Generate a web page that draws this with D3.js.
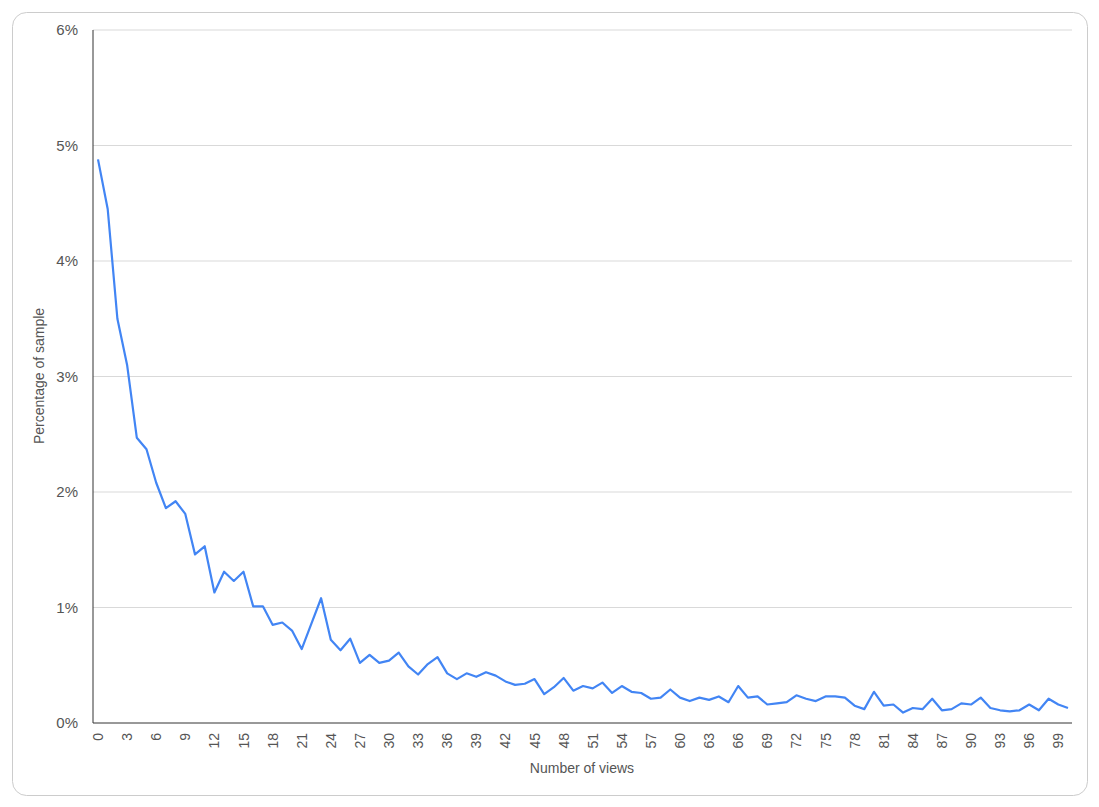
<!DOCTYPE html>
<html><head><meta charset="utf-8">
<script src="https://cdn.jsdelivr.net/npm/d3@7"></script>
<style>body{margin:0;background:#fff;font-family:"Liberation Sans",Arial,sans-serif}</style>
</head><body>
<svg id="c" width="1099" height="807" font-family="Liberation Sans, Arial, sans-serif"></svg>
<script>
const views = d3.range(0, 101);
const percent = [4.88,4.45,3.50,3.10,2.47,2.37,2.08,1.86,1.92,1.81,1.46,1.53,1.13,1.31,1.23,1.31,1.01,1.01,0.85,0.87,
0.80,0.64,0.86,1.08,0.72,0.63,0.73,0.52,0.59,0.52,0.54,0.61,0.49,0.42,0.51,0.57,0.43,0.38,0.43,0.40,
0.44,0.41,0.36,0.33,0.34,0.38,0.25,0.31,0.39,0.28,0.32,0.30,0.35,0.26,0.32,0.27,0.26,0.21,0.22,0.29,
0.22,0.19,0.22,0.20,0.23,0.18,0.32,0.22,0.23,0.16,0.17,0.18,0.24,0.21,0.19,0.23,0.23,0.22,0.15,0.12,
0.27,0.15,0.16,0.09,0.13,0.12,0.21,0.11,0.12,0.17,0.16,0.22,0.13,0.11,0.10,0.11,0.16,0.11,0.21,0.16,0.13];
const yTicks = [0,1,2,3,4,5,6];
const xTicks = views.filter(d => d % 3 === 0);

const svg = d3.select("#c");
svg.append("rect").attr("x",12.5).attr("y",12.5).attr("width",1075).attr("height",783)
  .attr("rx",14).attr("fill","#fff").attr("stroke","#ccc");
const x = d3.scaleLinear().domain([0,100]).range([98,1068]);
const y = d3.scaleLinear().domain([0,6]).range([723,30]);

svg.append("g").selectAll("line").data(yTicks.slice(1)).join("line")
  .attr("x1",93).attr("x2",1072).attr("y1",d=>y(d)).attr("y2",d=>y(d)).attr("stroke","#d9d9d9");
svg.append("g").selectAll("text").data(yTicks).join("text")
  .attr("x",78).attr("y",d=>y(d)+5).attr("text-anchor","end").attr("font-size",15).attr("fill","#555")
  .text(d=>d+"%");
svg.append("line").attr("x1",93).attr("x2",93).attr("y1",30).attr("y2",723).attr("stroke","#333");
svg.append("line").attr("x1",93).attr("x2",1072).attr("y1",723).attr("y2",723).attr("stroke","#333");
svg.append("g").selectAll("text").data(xTicks).join("text")
  .attr("transform",d=>`translate(${x(d)+5},733) rotate(-90)`).attr("text-anchor","end")
  .attr("font-size",14).attr("fill","#555").text(d=>d);
svg.append("path").datum(views).attr("fill","none").attr("stroke","#4285f4").attr("stroke-width",2.2)
  .attr("stroke-linejoin","round")
  .attr("d", d3.line().x(d=>x(d)).y(d=>y(percent[d])));
svg.append("text").attr("x",582).attr("y",773).attr("text-anchor","middle").attr("font-size",14)
  .attr("fill","#555").text("Number of views");
svg.append("text").attr("transform","translate(44,376) rotate(-90)").attr("text-anchor","middle")
  .attr("font-size",14).attr("fill","#555").text("Percentage of sample");
</script>
</body></html>
